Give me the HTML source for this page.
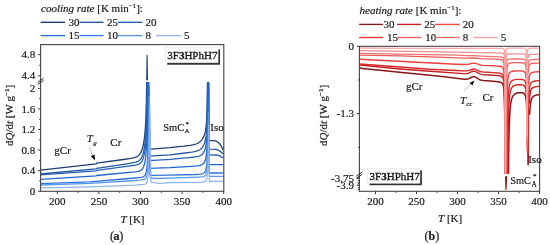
<!DOCTYPE html>
<html><head><meta charset="utf-8"><style>
html,body{margin:0;padding:0;background:#fff;}
svg{display:block;}
</style></head><body>
<svg width="550" height="245" viewBox="0 0 550 245">
<rect width="550" height="245" fill="#fff"/>
<g fill="none" stroke-width="1.3" stroke-linejoin="round" stroke-linecap="butt">
<path d="M40.6 170.2L96.2 163.9L96.4 163.43L96.6 163.19L125.2 159.26L129.4 158.64L132 158.18L134.2 157.68L135.8 157.17L137.2 156.51L138.4 155.69L139 155.14L139.6 154.46L140.6 152.98L141.4 151.35L142.2 149.17L143 146.22L143.6 143.33L144.2 139.62L144.6 136.51L145 132.63L145.4 127.54L145.8 120.33L146 115.4L146.4 100.79L146.7 82.6L147.6 82.6L148.1 149.3L169.95 147.7L183.95 146.22L190.35 145.38L193.95 144.67L195.55 144.22L196.75 143.76L197.95 143.18L198.95 142.57L199.95 141.81L200.95 140.85L201.95 139.62L202.75 138.39L203.55 136.88L204.15 135.51L204.75 133.83L205.15 132.44L205.55 130.68L205.95 128.22L206.35 124.39L206.55 121.53L206.95 112.29L207.15 104.7L207.5 82.6L208.5 82.6L208.9 140.3L215.5 140.9L217.6 141.99L219.4 143.52L220.9 145.47L222.1 147.63L223.4 150.2" stroke="#1f3f72"/>
<path d="M40.6 174L96.2 168.9L96.4 168.5L96.6 168.29L127 163.78L133.4 162.72L135.8 162.17L137.2 161.71L138.6 161.02L139.6 160.29L140.6 159.22L141.2 158.35L141.6 157.64L142.4 155.82L143 154L143.6 151.64L144.2 148.57L144.8 144.45L145.2 140.85L145.8 133.16L146.2 125.21L146.4 119.7L146.8 103.23L147.1 82.6L148 82.6L148.5 156.1L169.95 154.8L185.35 153.01L191.55 152.18L193.55 151.83L195.35 151.43L197.15 150.93L198.35 150.47L199.35 149.98L200.35 149.33L201.35 148.47L202.15 147.58L202.95 146.46L203.75 145.03L204.35 143.67L204.95 141.97L205.35 140.52L205.75 138.61L206.15 135.89L206.35 133.99L206.75 128.23L207.15 117.47L207.35 108.58L207.7 82.6L208.6 82.6L209 149.2L215.9 149.4L216.2 149.47L218.6 150.37L220.4 151.54L223.4 154.3" stroke="#22579f"/>
<path d="M40.6 174.8L96.2 170.9L96.4 170.57L96.6 170.39L128.6 166.14L134.6 165.26L136.6 164.84L138.2 164.34L139.4 163.77L140.4 163.06L141.4 162L142 161.1L142.4 160.36L143.2 158.41L143.8 156.4L144.4 153.71L145 150.07L145.4 146.84L145.8 142.66L146.4 133.16L146.8 122.62L147.2 104.9L147.5 82.6L148.4 82.6L148.9 160.7L169.95 159.3L188.95 157.61L194.75 156.98L197.95 156.43L198.95 156.16L199.95 155.79L200.95 155.27L201.75 154.71L202.55 153.95L203.15 153.22L203.95 151.94L204.55 150.67L205.15 148.98L205.55 147.48L206.15 144.13L206.55 140.37L206.75 137.62L207.15 128.87L207.35 121.81L207.55 111.81L207.9 82.6L208.7 82.6L209.1 154.8L216 155L219 155.7L221.1 156.66L223.4 158" stroke="#2462b8"/>
<path d="M40.6 179.4L96.2 175.9L96.4 175.63L96.6 175.49L135 171.97L137.4 171.55L139.2 171.08L140.6 170.47L141.6 169.76L142.4 168.89L143.2 167.6L143.8 166.2L144.4 164.27L145 161.55L145.4 159.1L145.8 155.91L146.2 151.58L146.6 145.43L146.8 141.27L147.2 129.35L147.6 108.81L147.9 82.6L148.8 82.6L149.3 168.4L169.95 167.7L191.55 166.29L197.55 165.82L199.95 165.46L200.75 165.25L201.55 164.95L202.35 164.52L202.95 164.08L203.55 163.49L203.95 162.98L204.55 162L205.15 160.62L205.55 159.35L205.95 157.61L206.35 155.06L206.55 153.3L206.95 148.02L207.35 138.45L207.55 130.73L207.75 119.8L208.1 88L209.2 164.6L223.4 164.6" stroke="#2266d2"/>
<path d="M40.6 183.7L90 181.8L135 178L137.8 177.72L140.6 177.4L142.2 177.11L143.4 176.7L144.2 176.18L144.8 175.53L145.4 174.48L146 172.75L146.4 170.95L146.8 168.32L147 166.54L147.4 161.6L147.6 158.12L148 147.9L148.4 130.22L148.6 116.56L148.9 86L150.1 175.3L169.95 175.2L196.15 174.49L199.95 174.21L201.95 173.89L202.75 173.63L203.35 173.34L203.95 172.92L204.55 172.3L205.15 171.35L205.55 170.42L206.15 168.22L206.55 165.76L206.75 164L207.15 158.67L207.55 148.92L207.75 141.07L207.95 130.01L208.3 98L209.3 173L223.4 173" stroke="#2c72dc"/>
<path d="M40.6 185L90 183.3L135 180.5L140.8 179.97L142.8 179.73L144.2 179.4L144.8 179.12L145.2 178.83L145.8 178.14L146.2 177.39L146.6 176.26L147 174.53L147.4 171.8L147.6 169.87L148 164.23L148.4 154.69L148.8 137.91L149 124.93L149.3 96L150.5 177.7L150.75 177.9L154.15 178.5L169.95 178.2L198.35 177.11L201.55 176.94L203.15 176.7L203.75 176.52L204.35 176.23L204.75 175.94L205.15 175.53L205.75 174.55L206.15 173.48L206.55 171.8L206.75 170.61L207.15 167.04L207.55 160.73L207.95 148.93L208.15 139.35L208.5 112L209.4 176.3L223.4 176.3" stroke="#5a98e6"/>
<path d="M40.6 187.8L90 186.9L135 185.2L143.6 184.46L145 184.15L145.8 183.73L146.4 183.09L146.8 182.36L147.2 181.2L147.6 179.33L148 176.25L148.2 174L148.6 167.2L149 155.26L149.2 146.1L149.4 133.68L149.7 106L150.9 181.8L151.15 182.04L154.95 182.89L159.95 183.3L169.95 182.6L195.95 182.3L201.75 182.12L203.15 182.02L204.15 181.85L204.95 181.56L205.55 181.11L205.95 180.59L206.35 179.77L206.75 178.41L206.95 177.41L207.35 174.32L207.75 168.72L208.15 158.14L208.35 149.53L208.7 125L209.5 181.4L223.4 181.4" stroke="#8fb4ef"/>
<path d="M146.7 80.2L147.1 55.3L147.5 80.2" stroke="#1f3f72" stroke-width="1.1"/>
</g>
<g fill="none" stroke-linejoin="round">
<path d="M359.8 67.15L360.55 67.92L362.55 68.61L412.05 73.61L440.05 76.31L464.3 79.16L466.05 79.23L467.05 79.12L467.8 78.96L469.3 78.41L471.55 77.23L472.3 76.9L473.3 76.64L474.05 76.64L474.8 76.81L475.55 77.13L478.3 78.89L479.3 79.45L480.3 79.87L481.3 80.17L482.3 80.36L483.8 80.55L493.55 81.29L497.55 81.71L499.05 81.96L500.55 82.35L501.3 82.66L501.8 82.99L502.3 83.5L502.8 84.32L503.3 85.8L503.55 87L503.8 88.78L504.05 91.55L504.3 96.2L504.55 104.81L504.8 123.21L505.05 172.79L505.3 173.2L508.35 173.2L508.5 172.28L508.65 157.72L508.95 138.21L509.25 126.12L509.7 115.12L510.15 108.59L510.45 105.62L510.75 103.35L511.35 100.18L511.8 98.56L512.25 97.35L512.85 96.16L513.45 95.31L514.2 94.53L514.95 93.98L515.85 93.5L517.05 93.08L518.4 92.79L519.75 92.64L521.1 92.63L522.15 92.74L523.05 92.97L523.8 93.35L524.4 93.87L524.85 94.51L525.3 95.51L525.6 96.54L526.05 99.1L526.35 102.11L526.65 107.35L526.8 111.53L526.95 111.76L527.75 111.73L527.75 111.4L528.05 164.8L528.15 164.8L528.45 114.1L529.6 114.1L530.05 107.78L530.5 103.53L530.8 101.74L531.1 100.42L531.55 99.02L532 98.05L532.45 97.34L533.05 96.67L533.8 96.09L534.55 95.7L535.45 95.36L536.65 95.06L538 94.84L539.6 94.66" stroke="#8a1616" stroke-width="1.5"/>
<path d="M359.8 65.06L400.05 69L430.05 71.31L463.3 73.6L465.8 73.66L467.55 73.44L469.05 72.97L472.3 71.47L473.3 71.23L474.05 71.22L474.8 71.36L475.55 71.65L478.3 73.23L479.3 73.72L480.3 74.1L481.55 74.41L484.05 74.7L493.55 75.27L497.55 75.6L499.05 75.8L500.3 76.06L501.05 76.29L501.8 76.69L502.3 77.13L502.8 77.87L503.3 79.21L503.55 80.33L503.8 82.03L504.05 84.74L504.3 89.44L504.55 98.6L504.8 119.8L505.05 173.2L507.75 173.2L508.2 131.43L508.5 116.41L508.8 107.47L509.25 99.62L509.7 95.1L510 93.08L510.3 91.56L510.6 90.38L511.05 89.07L511.65 87.86L512.25 87.03L513 86.32L513.75 85.84L514.8 85.38L516 85.06L517.5 84.82L519.15 84.69L520.65 84.69L522 84.82L523.05 85.07L523.8 85.42L524.4 85.91L524.85 86.51L525.3 87.48L525.6 88.5L525.9 90.06L526.2 92.59L526.5 97.05L526.65 100.66L526.8 101.31L527.55 101.29L527.55 101.1L527.85 155L527.95 155L528.25 103.1L529.25 103.1L529.7 97.28L530.15 93.53L530.45 92L530.75 90.89L531.2 89.74L531.65 88.95L532.1 88.39L532.7 87.86L533.45 87.41L534.2 87.1L535.25 86.81L536.45 86.59L539.6 86.29" stroke="#c62020" stroke-width="1.4"/>
<path d="M359.8 63.95L430.05 69.3L461.8 70.8L465.05 70.9L467.3 70.77L469.05 70.39L472.3 69.23L473.3 69.06L474.05 69.06L474.8 69.19L475.55 69.43L478.3 70.74L479.3 71.15L480.3 71.47L481.3 71.69L483.8 71.99L493.8 72.63L497.8 72.98L499.3 73.18L500.8 73.5L501.55 73.79L502.05 74.1L502.55 74.61L503.05 75.52L503.3 76.25L503.55 77.32L503.8 78.97L504.05 81.7L504.3 86.62L504.55 96.81L504.8 122.75L505.05 173.2L507.15 173.2L507.3 162.29L507.6 124.96L507.75 114.96L508.05 102.62L508.35 95.62L508.8 89.71L509.25 86.42L509.55 84.99L510 83.49L510.45 82.47L511.05 81.56L511.8 80.83L512.7 80.29L513.75 79.9L515.1 79.61L516.75 79.42L518.55 79.33L520.35 79.34L521.7 79.44L522.75 79.63L523.65 79.96L524.25 80.37L524.85 81.09L525.3 82.06L525.6 83.12L525.9 84.79L526.2 87.66L526.5 93.11L526.65 94.02L527.35 94.02L527.35 93.9L527.65 154L527.75 154L528.05 95.4L528.9 95.4L529.05 94.34L529.35 90.12L529.8 86.68L530.1 85.32L530.4 84.37L530.85 83.38L531.3 82.73L531.75 82.26L532.35 81.83L533.1 81.47L534 81.19L536.25 80.81L539.6 80.58" stroke="#dc2a2a" stroke-width="1.4"/>
<path d="M359.8 59.23L455.8 64.19L463.05 64.48L465.8 64.52L467.55 64.41L469.05 64.15L472.3 63.28L473.3 63.14L474.05 63.15L474.8 63.24L475.55 63.42L479.3 64.71L481.3 65.11L483.8 65.33L494.05 65.82L498.3 66.1L499.55 66.24L501.05 66.5L501.8 66.76L502.3 67.07L502.8 67.59L503.05 68.01L503.3 68.6L503.55 69.48L503.8 70.88L504.05 73.26L504.3 77.76L504.55 87.78L504.8 116.5L505.05 173.2L506.55 173.2L506.85 121.73L507.15 96.29L507.45 85.87L507.75 80.67L508.2 76.69L508.5 75.21L508.8 74.21L509.25 73.22L509.7 72.59L510.3 72.05L511.2 71.58L512.25 71.27L513.6 71.06L515.4 70.93L517.8 70.86L519.9 70.88L521.55 70.97L522.75 71.13L523.65 71.39L524.4 71.83L524.85 72.3L525.3 73.12L525.6 74.06L525.9 75.61L526.05 76.79L526.5 82.95L527.15 82.95L527.15 82.9L527.45 152L527.55 152L527.85 83.9L528.55 83.9L528.85 79.88L529 78.47L529.3 76.56L529.6 75.36L529.9 74.56L530.2 74L530.65 73.42L531.1 73.03L531.7 72.68L532.45 72.41L533.35 72.2L535.75 71.92L539.6 71.76" stroke="#ec4040" stroke-width="1.4"/>
<path d="M359.8 55.21L400.05 55.9L465.3 58.11L468.05 58.13L472.3 58L474.05 58.02L481.3 58.64L494.8 59.17L499.05 59.4L500.8 59.58L501.55 59.71L502.3 59.97L502.8 60.31L503.3 60.94L503.55 61.5L503.8 62.38L504.05 63.88L504.3 66.73L504.55 73.06L504.8 91.2L505.05 171.82L505.3 173.2L505.95 173.2L506.1 162.24L506.25 110.6L506.4 90L506.55 80.08L506.7 74.63L507 69.21L507.3 66.72L507.6 65.39L508.05 64.32L508.5 63.75L509.1 63.32L510 63L511.2 62.81L513 62.68L518.85 62.62L522.3 62.77L523.35 62.92L524.1 63.16L524.7 63.52L525.15 64.04L525.45 64.63L525.75 65.62L526.05 67.47L526.35 71.49L526.5 72.44L526.95 72.42L527.25 148L527.35 148L527.65 72.92L528.05 72.92L528.2 71.81L528.5 68.3L528.65 67.3L528.95 66.01L529.4 64.95L530 64.25L530.45 63.94L531.05 63.69L531.8 63.5L532.7 63.36L535.25 63.18L539.6 63.08" stroke="#ee5a5a" stroke-width="1.3"/>
<path d="M359.8 53.41L400.05 54.2L455.8 55.2L466.55 55.57L473.55 55.64L481.3 56.11L499.05 56.85L501.8 57.12L502.55 57.34L503.05 57.63L503.55 58.25L503.8 58.82L504.05 59.81L504.3 61.68L504.55 65.84L504.8 77.76L505.3 173.2L505.6 173.2L505.75 165.1L505.9 100L506.05 78.72L506.2 70.23L506.35 66.14L506.65 62.54L506.95 61.07L507.25 60.33L507.7 59.77L508.3 59.42L509.2 59.19L510.55 59.05L512.65 58.98L520.45 58.99L523.15 59.14L523.9 59.28L524.5 59.48L524.95 59.76L525.4 60.29L525.7 60.97L525.85 61.5L526.15 63.38L526.45 67.43L526.85 67.42L527.15 145L527.25 145L527.55 67.92L527.8 67.92L528.1 64.4L528.25 63.21L528.55 61.84L529 60.86L529.3 60.51L529.6 60.27L530.05 60.04L530.65 59.85L532.3 59.63L535 59.5L539.6 59.45" stroke="#f07272" stroke-width="1.3"/>
<path d="M359.8 50.61L455.8 52.2L496.55 52.78L501.55 52.96L502.55 53.11L503.3 53.43L503.55 53.64L503.8 53.98L504.05 54.55L504.3 55.64L504.55 58.06L504.8 65L505.05 95.85L505.3 173.2L505.6 173.2L505.75 99.29L505.9 71.4L506.05 62.29L506.2 58.65L506.35 56.9L506.65 55.36L506.95 54.73L507.4 54.31L508 54.08L508.75 53.96L512.2 53.84L520.6 53.85L523.3 53.96L524.05 54.05L524.65 54.21L525.1 54.45L525.4 54.73L525.7 55.24L525.85 55.66L526.15 57.26L526.45 61.2L526.7 61.2L527 140L527.1 140L527.4 61.6L527.5 61.6L527.8 57.81L528.1 56.2L528.4 55.48L528.85 54.97L529.6 54.61L530.65 54.42L532.3 54.31L539.6 54.22" stroke="#f38c8c" stroke-width="1.3"/>
<path d="M359.8 48L400.05 48.3L498.3 48.42L502.3 48.52L503.3 48.69L503.8 48.94L504.05 49.21L504.3 49.71L504.55 50.83L504.8 54.04L505.05 68.29L505.3 115.4L505.3 173.2L505.6 173.2L505.75 76.17L505.9 58.96L506.05 53.34L506.2 51.1L506.35 50.01L506.5 49.42L506.8 48.83L507.1 48.56L507.7 48.33L508.45 48.22L511.75 48.13L520.6 48.13L523.45 48.19L524.8 48.35L525.25 48.52L525.55 48.73L525.85 49.17L526 49.56L526.15 50.21L526.3 51.38L526.45 53.72L526.6 54.66L526.9 135L527 135L527.3 54.66L527.55 50.87L527.7 49.98L528 49.14L528.45 48.65L529.2 48.37L530.25 48.23L531.9 48.17L539.6 48.11" stroke="#f6a9a9" stroke-width="1.3"/>
<path d="M505.6 176.2L506.0 189.4L506.6 176.2" stroke="#8a1616" stroke-width="1.2"/>
</g>
<g fill="none" stroke="#454545" stroke-width="1.1">
<rect x="40.6" y="44.6" width="183.2" height="146.7"/>
<rect x="359.4" y="46.3" width="180.2" height="145.0"/>
</g>
<path d="M57.30 191.3V194.10000000000002 M375.50 191.3V194.10000000000002 M98.90 191.3V194.10000000000002 M416.52 191.3V194.10000000000002 M140.50 191.3V194.10000000000002 M457.55 191.3V194.10000000000002 M182.10 191.3V194.10000000000002 M498.58 191.3V194.10000000000002 M223.70 191.3V194.10000000000002 M539.60 191.3V194.10000000000002 M78.10 191.3V192.9 M396.01 191.3V192.9 M119.70 191.3V192.9 M437.04 191.3V192.9 M161.30 191.3V192.9 M478.06 191.3V192.9 M202.90 191.3V192.9 M519.09 191.3V192.9 M40.6 191.20H38.0 M40.6 170.64H38.0 M40.6 150.08H38.0 M40.6 129.52H38.0 M40.6 108.96H38.0 M40.6 88.40H38.0 M40.6 180.92H39.1 M40.6 160.36H39.1 M40.6 139.80H39.1 M40.6 119.24H39.1 M40.6 98.68H39.1 M40.6 75.80H38.0 M40.6 54.70H38.0 M40.6 65.25H39.1 M359.4 46.30H356.79999999999995 M359.4 113.64H356.79999999999995 M359.4 79.97H357.9 M359.4 147.31H357.9 M359.4 178.30H356.79999999999995 M359.4 185.30H356.79999999999995 M359.4 176.80H357.79999999999995 M359.4 180.60H357.79999999999995 M359.4 182.60H357.79999999999995 M359.4 183.80H357.79999999999995 M359.4 187.80H357.79999999999995 M359.4 189.60H357.79999999999995" stroke="#3c3c3c" stroke-width="1" fill="none"/>
<g stroke="#2a2a2a" stroke-width="1.0" fill="none">
<path d="M37.7 82.4L43.5 78.2M37.7 84.6L43.5 80.4"/>
<path d="M356.4 176.2L362.2 172.0M356.4 178.4L362.2 174.2"/>
</g>
<rect x="167.20000000000002" y="49.5" width="52.8" height="15.2" fill="#2e2e2e"/>
<rect x="165.3" y="47.6" width="52.8" height="15.2" fill="#fff" stroke="#e0e0e0" stroke-width="0.5"/>
<rect x="369.5" y="170.4" width="52.4" height="14.8" fill="#2e2e2e"/>
<rect x="367.6" y="168.5" width="52.4" height="14.8" fill="#fff" stroke="#e0e0e0" stroke-width="0.5"/>
<g style="font-family:'Liberation Serif',serif;font-size:11px" fill="#1a1a1a">
<text x="167.3" y="59.3" stroke="#111" stroke-width="0.3">3F<tspan font-weight="bold">3</tspan>HPhH7</text>
<text x="369.6" y="180.1" stroke="#111" stroke-width="0.3">3F<tspan font-weight="bold">3</tspan>HPhH7</text>
</g>
<g style="font-family:'Liberation Serif',serif;font-size:11px" fill="#1a1a1a" stroke="#1a1a1a" stroke-width="0.2">
<text x="41" y="12.1"><tspan font-style="italic">cooling rate</tspan> [K min<tspan dy="-4.3" font-size="7">−1</tspan><tspan dy="4.3">]:</tspan></text>
<text x="359.5" y="14.0"><tspan font-style="italic">heating rate</tspan> [K min<tspan dy="-4.3" font-size="7">−1</tspan><tspan dy="4.3">]:</tspan></text>
<line x1="40.6" y1="22.3" x2="65" y2="22.3" stroke="#1f3f72" stroke-width="1.35"/>
<text x="68.5" y="26.1">30</text>
<line x1="79.5" y1="22.3" x2="103.5" y2="22.3" stroke="#22579f" stroke-width="1.35"/>
<text x="107" y="26.1">25</text>
<line x1="118" y1="22.3" x2="142.5" y2="22.3" stroke="#2563b3" stroke-width="1.35"/>
<text x="145.5" y="26.1">20</text>
<line x1="40.6" y1="35.6" x2="65" y2="35.6" stroke="#2a6fd6" stroke-width="1.35"/>
<text x="68.5" y="39.4">15</text>
<line x1="79.5" y1="35.6" x2="103.5" y2="35.6" stroke="#3479e0" stroke-width="1.35"/>
<text x="107" y="39.4">10</text>
<line x1="118" y1="35.6" x2="142.5" y2="35.6" stroke="#5a98e6" stroke-width="1.35"/>
<text x="145.5" y="39.4">8</text>
<line x1="156.3" y1="35.6" x2="180.8" y2="35.6" stroke="#8fb4ef" stroke-width="1.35"/>
<text x="184" y="39.4">5</text>
<line x1="359.1" y1="24.4" x2="383.1" y2="24.4" stroke="#8a1616" stroke-width="1.35"/>
<text x="383.6" y="28.2">30</text>
<line x1="397.1" y1="24.4" x2="421.1" y2="24.4" stroke="#cc2020" stroke-width="1.35"/>
<text x="424.2" y="28.2">25</text>
<line x1="435.1" y1="24.4" x2="459.6" y2="24.4" stroke="#f04040" stroke-width="1.35"/>
<text x="462.7" y="28.2">20</text>
<line x1="359.1" y1="37.5" x2="383.1" y2="37.5" stroke="#f03030" stroke-width="1.35"/>
<text x="387.1" y="41.0">15</text>
<line x1="397.1" y1="37.5" x2="421.1" y2="37.5" stroke="#f06060" stroke-width="1.35"/>
<text x="425.2" y="41.0">10</text>
<line x1="435.1" y1="37.5" x2="459.6" y2="37.5" stroke="#f27272" stroke-width="1.35"/>
<text x="462.7" y="41.0">8</text>
<line x1="473.2" y1="37.5" x2="497.7" y2="37.5" stroke="#f6a4a4" stroke-width="1.35"/>
<text x="500.7" y="41.0">5</text>
<text x="57.30" y="205.2" text-anchor="middle">200</text>
<text x="375.50" y="204.8" text-anchor="middle">200</text>
<text x="98.90" y="205.2" text-anchor="middle">250</text>
<text x="416.52" y="204.8" text-anchor="middle">250</text>
<text x="140.50" y="205.2" text-anchor="middle">300</text>
<text x="457.55" y="204.8" text-anchor="middle">300</text>
<text x="182.10" y="205.2" text-anchor="middle">350</text>
<text x="498.58" y="204.8" text-anchor="middle">350</text>
<text x="223.70" y="205.2" text-anchor="middle">400</text>
<text x="539.60" y="204.8" text-anchor="middle">400</text>
<text x="35.3" y="194.80" text-anchor="end">0</text>
<text x="35.3" y="174.24" text-anchor="end">0.4</text>
<text x="35.3" y="153.68" text-anchor="end">0.8</text>
<text x="35.3" y="133.12" text-anchor="end">1.2</text>
<text x="35.3" y="112.56" text-anchor="end">1.6</text>
<text x="35.3" y="92.00" text-anchor="end">2</text>
<text x="35.3" y="79.40" text-anchor="end">4.4</text>
<text x="35.3" y="58.30" text-anchor="end">4.8</text>
<text x="354.0" y="49.90" text-anchor="end">0</text>
<text x="354.0" y="117.24" text-anchor="end">-1.3</text>
<text x="354.0" y="181.9" text-anchor="end">-3.75</text>
<text x="354.0" y="188.9" text-anchor="end">-3.9</text>
<text x="120.4" y="223"><tspan font-style="italic">T</tspan> [K]</text>
<text x="438" y="222.2"><tspan font-style="italic">T</tspan> [K]</text>
<text x="109.9" y="239.6" font-size="12" letter-spacing="-0.35">(<tspan font-weight="bold">a</tspan>)</text>
<text x="424.5" y="239.6" font-size="12">(<tspan font-weight="bold">b</tspan>)</text>
<text transform="translate(12.9 146.0) rotate(-90)">d<tspan font-style="italic">Q</tspan>/d<tspan font-style="italic">t</tspan> [W g<tspan dy="-4.2" font-size="7">−1</tspan><tspan dy="4.2">]</tspan></text>
<text transform="translate(326.9 146.0) rotate(-90)">d<tspan font-style="italic">Q</tspan>/d<tspan font-style="italic">t</tspan> [W g<tspan dy="-4.2" font-size="7">−1</tspan><tspan dy="4.2">]</tspan></text>
<text x="54.3" y="154">gCr</text>
<text x="86.8" y="142.2" font-style="italic">T<tspan dx="0.2" dy="2.9" font-size="6.8">g</tspan></text>
<text x="110.3" y="145.6">Cr</text>
<text x="163.2" y="130.7" textLength="21" lengthAdjust="spacingAndGlyphs">SmC</text><text x="185.6" y="125.6" font-size="7">*</text><text x="184.6" y="133.0" font-size="7">A</text>
<text x="210.3" y="130.7">Iso</text>
<text x="406" y="89.9">gCr</text>
<text x="459.9" y="103.5" font-style="italic">T<tspan dx="0.3" dy="2.9" font-size="6.8">cc</tspan></text>
<text x="482.5" y="100.7">Cr</text>
<text x="528.2" y="163.3">Iso</text>
<text x="510.3" y="183.8" textLength="20.6" lengthAdjust="spacingAndGlyphs">SmC</text><text x="533.0" y="178.4" font-size="7">*</text><text x="531.6" y="187.0" font-size="7.2">A</text>
</g>
<path d="M89.3 147.6L92.9 155.6" stroke="#999" stroke-width="0.6" fill="none"/>
<path d="M95.0 160.4L90.9 156.2L94.6 154.6Z" fill="#000"/>
<path d="M464.3 90.9L471.2 84.0" stroke="#999" stroke-width="0.6" fill="none"/>
<path d="M474.4 80.6L469.6 82.9L472.5 85.6Z" fill="#000"/>
</svg>
</body></html>
